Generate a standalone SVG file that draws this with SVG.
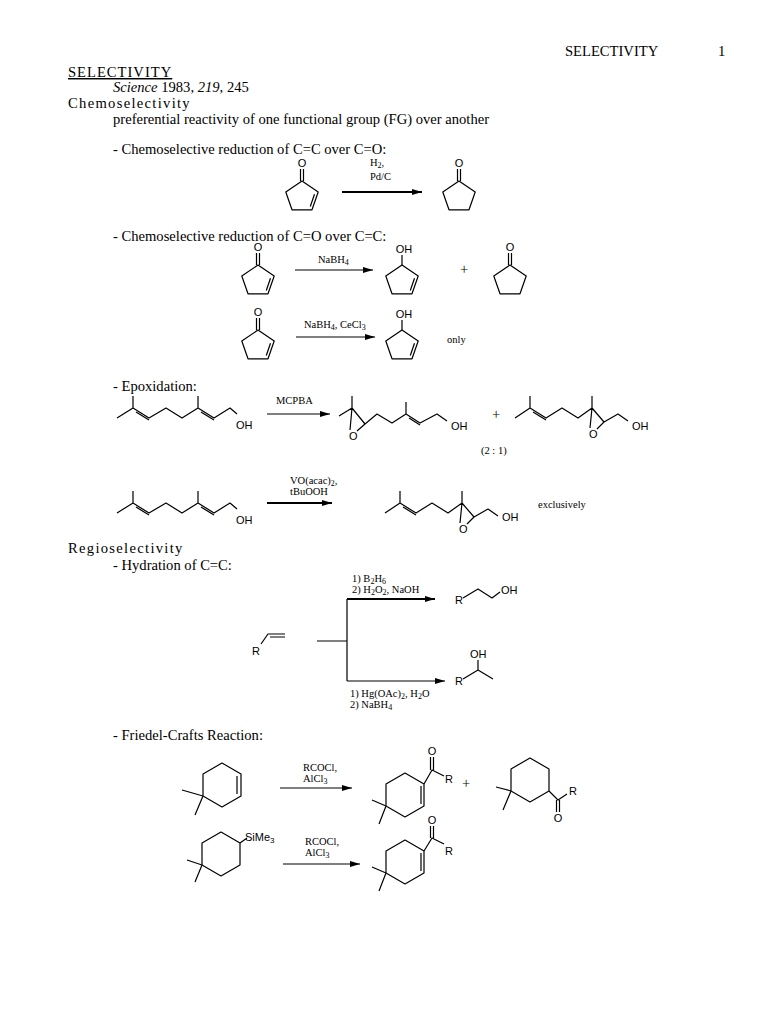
<svg xmlns="http://www.w3.org/2000/svg" width="768" height="1024" viewBox="0 0 768 1024">
<style>
.t{font-family:"Liberation Serif",serif;font-size:14.6px;fill:#000}
.s{font-family:"Liberation Serif",serif;font-size:10.5px;fill:#000}
.a{font-family:"Liberation Sans",sans-serif;font-size:11px;fill:#000}
.b{fill:none;stroke:#000;stroke-width:1.2;stroke-linejoin:round}
.ar{stroke:#000;stroke-width:1.2;marker-end:url(#ah)}
.ar2{stroke:#000;stroke-width:2;marker-end:url(#ah)}
</style>
<defs>
<marker id="ah" viewBox="0 0 10 6" refX="10" refY="3" markerWidth="10" markerHeight="6" markerUnits="userSpaceOnUse" orient="auto"><path d="M0,0L10,3L0,6z"/></marker>
<polygon id="pent" class="b" points="0,-15 16.2,-4 10,13.8 -10,13.8 -16.2,-4"/>
<g id="ketone"><use href="#pent"/><path class="b" d="M-1.5,-15V-27M1.5,-15V-27"/><text class="a" x="0" y="-29" text-anchor="middle">O</text></g>
<g id="enone"><use href="#ketone"/><path class="b" d="M12.5,-1.7L8.3,10.5"/></g>
<g id="enol"><use href="#pent"/><path class="b" d="M12.5,-1.7L8.3,10.5M0,-15V-25"/><text class="a" x="2" y="-27" text-anchor="middle">OH</text></g>
<polygon id="hex" class="b" points="0,-22 19,-11 19,11 0,22 -19,11 -19,-11"/>
</defs>
<g id="header">
<text class="t" x="565" y="56">SELECTIVITY</text><text class="t" x="718" y="56">1</text>
<text class="t" x="68" y="77" letter-spacing="1" text-decoration="underline">SELECTIVITY</text>
<text class="t" x="113" y="92"><tspan font-style="italic">Science</tspan> 1983, <tspan font-style="italic">219</tspan>, 245</text>
<text class="t" x="68" y="108" letter-spacing="1.3">Chemoselectivity</text>
<text class="t" x="113" y="124">preferential reactivity of one functional group (FG) over another</text>
<text class="t" x="113" y="154">- Chemoselective reduction of C=C over C=O:</text>
<text class="t" x="113" y="241">- Chemoselective reduction of C=O over C=C:</text>
<text class="t" x="113" y="391">- Epoxidation:</text>
<text class="t" x="68" y="553" letter-spacing="1.3">Regioselectivity</text>
<text class="t" x="113" y="570">- Hydration of C=C:</text>
<text class="t" x="113" y="740">- Friedel-Crafts Reaction:</text>
</g>
<g id="connectors">
<line class="ar2" x1="342" y1="192" x2="422" y2="192"/>
<line class="ar" x1="295" y1="270" x2="373" y2="270"/>
<line class="ar" x1="296" y1="337" x2="375" y2="337"/>
<line class="ar" x1="267" y1="414" x2="330" y2="414"/>
<line class="ar2" x1="267" y1="503" x2="332" y2="503"/>
<path class="b" d="M317,641H347M347,599V681"/>
<line class="ar2" x1="347" y1="599" x2="435" y2="599"/>
<line class="ar" x1="347" y1="681" x2="445" y2="681"/>
<line class="ar" x1="280" y1="788" x2="352" y2="788"/>
<line class="ar" x1="283" y1="864" x2="360" y2="864"/>
</g>
<g id="r1">
<use href="#enone" x="302" y="196"/>
<text class="s" x="370" y="166">H<tspan font-size="8" dy="2">2</tspan><tspan dy="-2">,</tspan></text>
<text class="s" x="370" y="180">Pd/C</text>
<use href="#ketone" x="459" y="196"/>
</g>
<g id="r2">
<use href="#enone" x="258" y="280"/>
<text class="s" x="318" y="263">NaBH<tspan font-size="8" dy="2">4</tspan></text>
<use href="#enol" x="402" y="280"/>
<text class="t" x="460" y="274">+</text>
<use href="#ketone" x="510" y="280"/>
</g>
<g id="r3">
<use href="#enone" x="258" y="345"/>
<text class="s" x="304" y="328">NaBH<tspan font-size="8" dy="2">4</tspan><tspan dy="-2">, CeCl</tspan><tspan font-size="8" dy="2">3</tspan></text>
<use href="#enol" x="402" y="345"/>
<text class="s" x="447" y="343">only</text>
</g>
<g id="epox1">
<path class="b" d="M117,418L133,408L149,418L166,408L182,418L198,408L214,418L230,408L237,414M133,408V396M198,408V396M136,412L149,420M201,412L214,420"/>
<text class="a" x="236" y="429">OH</text>
<text class="s" x="276" y="404">MCPBA</text>
<path class="b" d="M339,416L352,408L365,424L352,408V396M352,408L350,430M365,424L357,431M365,424L377,414L392,423L406,414L420,423L437,414L447,421M406,414V402M409,418L420,425"/>
<text class="a" x="349" y="440">O</text>
<text class="a" x="451" y="430">OH</text>
<text class="t" x="492" y="419">+</text>
<text class="s" x="481" y="454">(2 : 1)</text>
<path class="b" d="M515,418L530,408L546,418L562,408L578,418L592,408L604,422L618,414L628,421M530,408V396M533,412L546,420M592,408V396M592,408L590,428M604,422L597,429"/>
<text class="a" x="589" y="438">O</text>
<text class="a" x="632" y="430">OH</text>
</g>
<g id="epox2">
<path class="b" d="M117,513L133,503L149,513L166,503L182,513L198,503L214,513L230,503L237,509M133,503V491M198,503V491M136,507L149,515M201,507L214,515"/>
<text class="a" x="236" y="524">OH</text>
<text class="s" x="290" y="484">VO(acac)<tspan font-size="8" dy="2">2</tspan><tspan dy="-2">,</tspan></text>
<text class="s" x="290" y="495">tBuOOH</text>
<path class="b" d="M385,513L400,503L416,513L432,503L448,513L462,503L474,517L488,509L498,516M400,503V491M403,507L416,515M462,503V491M462,503L460,523M474,517L467,524"/>
<text class="a" x="459" y="533">O</text>
<text class="a" x="502" y="521">OH</text>
<text class="s" x="538" y="508">exclusively</text>
</g>
<g id="hydration">
<path class="b" d="M261,644L268,634H285M270,637H285"/>
<text class="a" x="252" y="655">R</text>
<text class="s" x="352" y="582">1) B<tspan font-size="8" dy="2">2</tspan><tspan dy="-2">H</tspan><tspan font-size="8" dy="2">6</tspan></text>
<text class="s" x="352" y="593">2) H<tspan font-size="8" dy="2">2</tspan><tspan dy="-2">O</tspan><tspan font-size="8" dy="2">2</tspan><tspan dy="-2">, NaOH</tspan></text>
<text class="a" x="455" y="604">R</text>
<path class="b" d="M463,598L478,589L492,598L500,592"/>
<text class="a" x="501" y="594">OH</text>
<text class="a" x="455" y="685">R</text>
<path class="b" d="M463,679L478,670L493,679M478,670V660"/>
<text class="a" x="470" y="658">OH</text>
<text class="s" x="350" y="697">1) Hg(OAc)<tspan font-size="8" dy="2">2</tspan><tspan dy="-2">, H</tspan><tspan font-size="8" dy="2">2</tspan><tspan dy="-2">O</tspan></text>
<text class="s" x="350" y="708">2)  NaBH<tspan font-size="8" dy="2">4</tspan></text>
</g>
<g id="fc1">
<use href="#hex" x="222" y="785"/>
<path class="b" d="M237,776V794M203,796L182,790M203,796L195,815"/>
<text class="s" x="303" y="771">RCOCl,</text>
<text class="s" x="303" y="782">AlCl<tspan font-size="8" dy="2">3</tspan></text>
<use href="#hex" x="405" y="795"/>
<path class="b" d="M421,786V804M386,806L372,800M386,806L379,824M424,784L432,770L444,776M430.5,770V757M433.5,770V757"/>
<text class="a" x="432" y="755" text-anchor="middle">O</text>
<text class="a" x="445" y="783">R</text>
<text class="t" x="462" y="788">+</text>
<use href="#hex" x="530" y="780"/>
<path class="b" d="M511,791L496,787M511,791L503,810M549,791L558,800L567,794M556.5,800V812M559.5,800V812"/>
<text class="a" x="558" y="822" text-anchor="middle">O</text>
<text class="a" x="569" y="795">R</text>
</g>
<g id="fc2">
<use href="#hex" x="221" y="854"/>
<path class="b" d="M240,843L247,838M202,865L187,860M202,865L195,882"/>
<text class="a" x="245" y="841">SiMe<tspan font-size="8" dy="2">3</tspan></text>
<text class="s" x="305" y="845">RCOCl,</text>
<text class="s" x="305" y="856">AlCl<tspan font-size="8" dy="2">3</tspan></text>
<use href="#hex" x="405" y="862"/>
<path class="b" d="M421,853V871M386,873L372,867M386,873L379,891M424,851L432,838L444,844M430.5,838V826M433.5,838V826"/>
<text class="a" x="432" y="824" text-anchor="middle">O</text>
<text class="a" x="445" y="855">R</text>
</g>
</svg>
